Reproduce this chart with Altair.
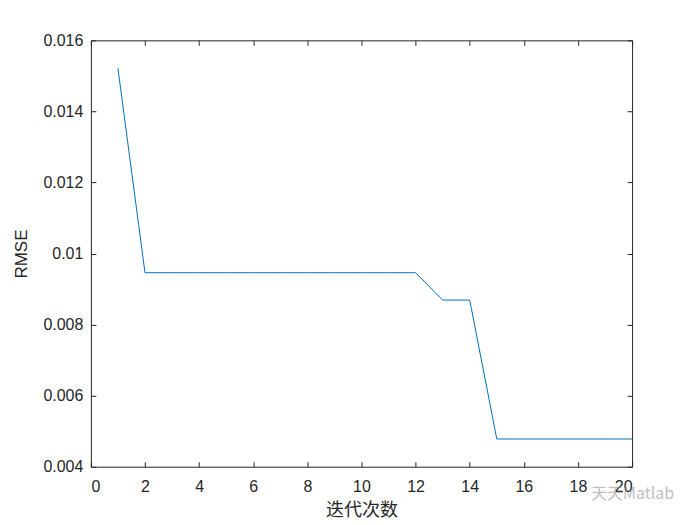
import altair as alt
import pandas as pd

iterations = list(range(1, 21))
rmse = [0.01521, 0.00946, 0.00946, 0.00946, 0.00946, 0.00946, 0.00946, 0.00946,
        0.00946, 0.00946, 0.00946, 0.00946, 0.00869, 0.00869, 0.00478, 0.00478,
        0.00478, 0.00478, 0.00478, 0.00478]
x_ticks = list(range(0, 21, 2))
y_ticks = [0.004, 0.006, 0.008, 0.010, 0.012, 0.014, 0.016]

df = pd.DataFrame({"iter": iterations, "rmse": rmse})

AX = "#262626"
FONT = "Liberation Sans"
CJK = "Noto Sans CJK SC"

xscale = alt.Scale(domain=[0, 20], nice=False, zero=False)
yscale = alt.Scale(domain=[0.004, 0.016], nice=False, zero=False)

common_axis = dict(domain=False, grid=False, offset=-5, tickSize=5, tickColor=AX,
                   tickWidth=1, labelColor=AX, labelFont=FONT, labelFontSize=16)

main = alt.Chart(df).mark_line(color="#0072BD", strokeWidth=1).encode(
    x=alt.X("iter:Q", scale=xscale,
            axis=alt.Axis(orient="bottom", values=x_ticks, labelPadding=12,
                          title="迭代次数", titleFont=CJK, titleFontSize=18,
                          titleFontWeight="normal", titleColor=AX, titlePadding=7,
                          **common_axis)),
    y=alt.Y("rmse:Q", scale=yscale,
            axis=alt.Axis(orient="left", values=y_ticks, format=".3~f", labelPadding=8,
                          title="RMSE", titleFont=FONT, titleFontSize=17,
                          titleFontWeight="normal", titleColor=AX, titlePadding=12,
                          **common_axis)),
)

mirror = alt.Chart(df).mark_line(opacity=0).encode(
    x=alt.X("iter:Q", scale=xscale,
            axis=alt.Axis(orient="top", values=x_ticks, labels=False, title=None,
                          **common_axis)),
    y=alt.Y("rmse:Q", scale=yscale,
            axis=alt.Axis(orient="right", values=y_ticks, labels=False, title=None,
                          **common_axis)),
)

watermark = alt.Chart(pd.DataFrame({"t": ["天天Matlab"]})).mark_text(
    font=CJK, fontSize=16, color="#8c8c8c", opacity=0.55, align="left", baseline="middle"
).encode(text="t:N", x=alt.value(501), y=alt.value(454))

chart = alt.layer(main, mirror, watermark).resolve_axis(
    x="independent", y="independent"
).properties(
    width=542, height=427,
    background="white",
    autosize=alt.AutoSizeParams(type="none"),
    padding={"left": 83, "top": 32, "right": 60, "bottom": 58},
).configure_view(stroke=AX, strokeWidth=1)

chart.save("out.html", embed_options={"renderer": "svg", "actions": False})
